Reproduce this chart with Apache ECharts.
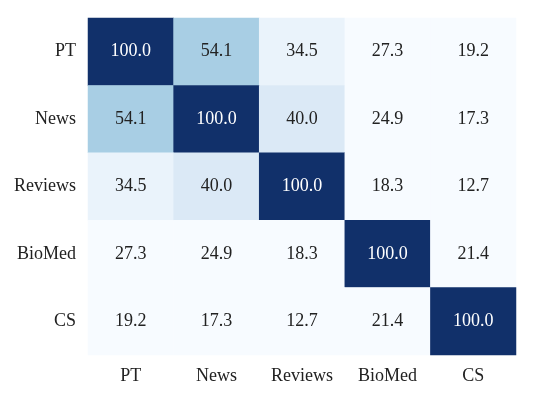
<!DOCTYPE html>
<html><head><meta charset="utf-8">
<script src="https://cdn.jsdelivr.net/npm/echarts@6/dist/echarts.min.js"></script>
<style>html,body{margin:0;background:#fff}#c{width:554px;height:413px}</style>
</head><body><div id="c"></div>
<script>
const labels = ['PT','News','Reviews','BioMed','CS'];
const matrix = [
  [100.0, 54.1, 34.5, 27.3, 19.2],
  [54.1, 100.0, 40.0, 24.9, 17.3],
  [34.5, 40.0, 100.0, 18.3, 12.7],
  [27.3, 24.9, 18.3, 100.0, 21.4],
  [19.2, 17.3, 12.7, 21.4, 100.0]
];
const data = [];
matrix.forEach((row, r) => row.forEach((v, c) => data.push([c, r, v])));
const font = 'Liberation Serif, Times New Roman, serif';
const chart = echarts.init(document.getElementById('c'));
chart.setOption({
  animation: false,
  grid: {left: 88, right: 38, top: 18, bottom: 58},
  xAxis: {type: 'category', data: labels, axisLine: {show: false}, axisTick: {show: false},
    splitLine: {show: false}, axisLabel: {fontFamily: font, fontSize: 18, color: '#222', margin: 12}},
  yAxis: {type: 'category', data: labels, inverse: true, axisLine: {show: false}, axisTick: {show: false},
    splitLine: {show: false}, axisLabel: {fontFamily: font, fontSize: 18, color: '#222', margin: 12}},
  visualMap: {show: false, min: 30, max: 100, dimension: 2,
    inRange: {color: ['#f7fbff','#deebf7','#c6dbef','#9ecae1','#6baed6','#4292c6','#2171b5','#08519c','#11306a']},
    outOfRange: {color: '#f7fbff'}},
  series: [{type: 'heatmap', data: data,
    label: {show: true, fontFamily: font, fontSize: 18,
      formatter: p => p.value[2].toFixed(1),
      color: '#222', rich: {}},
    itemStyle: {borderWidth: 0}}]
});
chart.setOption({series: [{data: data.map(d => ({value: d, label: {color: d[2] > 70 ? '#fff' : '#222'}}))}]});
</script></body></html>
